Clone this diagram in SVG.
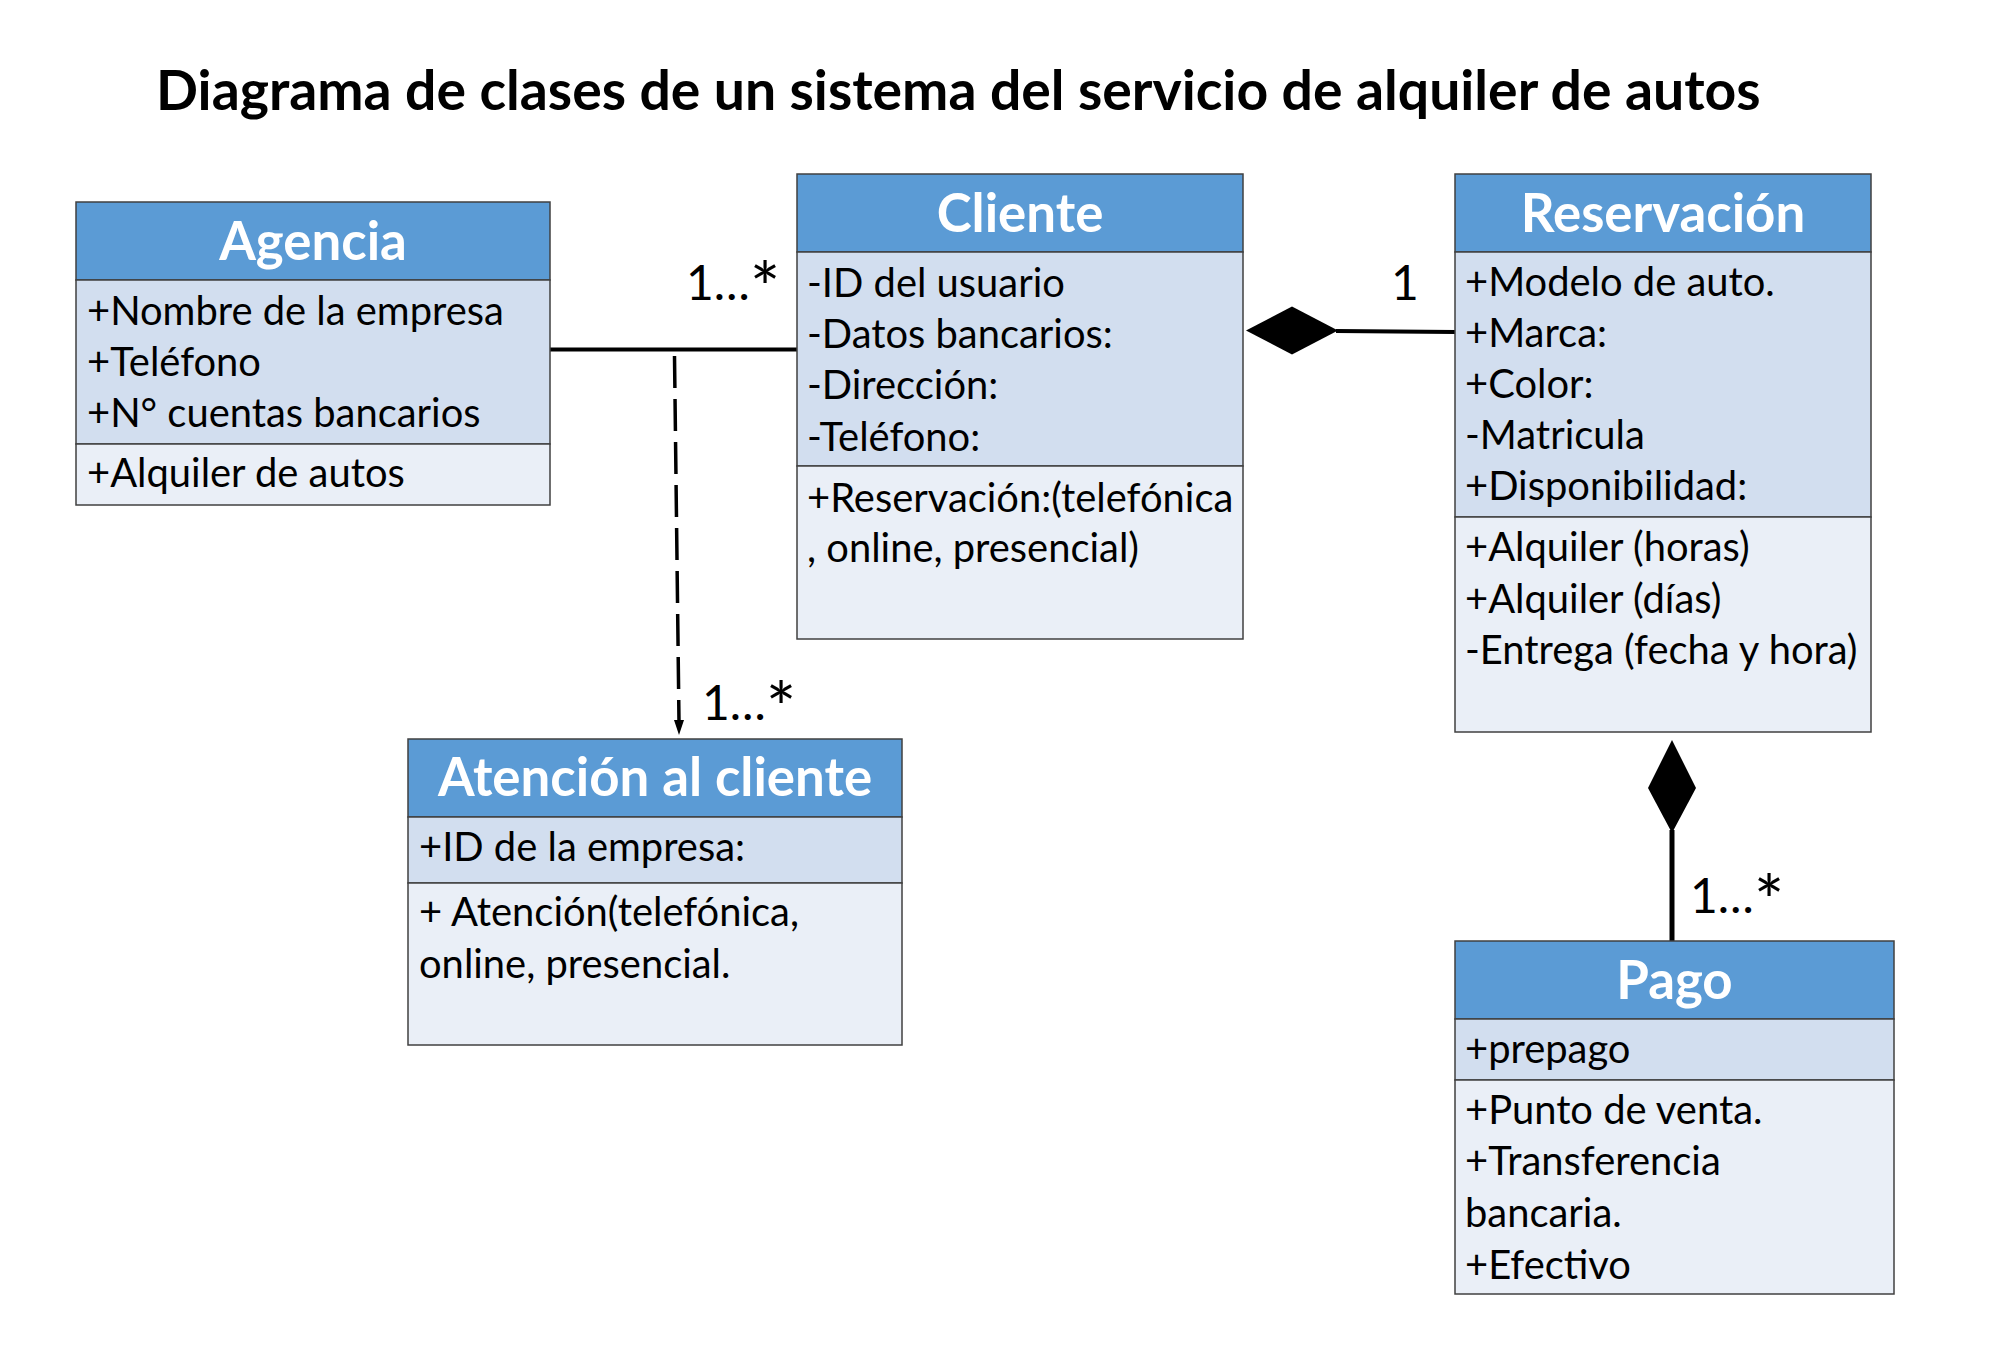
<svg xmlns="http://www.w3.org/2000/svg" width="1994" height="1355" viewBox="0 0 1994 1355">
<defs>
<style>
.hdr{fill:#5B9BD5;stroke:#404040;stroke-width:1.5}
.att{fill:#D2DEEF;stroke:#404040;stroke-width:1.5}
.ops{fill:#EAEFF7;stroke:#404040;stroke-width:1.5}
.ht{font-family:Lato,"Open Sans","Liberation Sans",sans-serif;font-weight:bold;font-size:52.8px;fill:#FFFFFF;text-anchor:middle}
.t{font-family:Lato,"Open Sans","Liberation Sans",sans-serif;font-size:39.9px;fill:#000000}
.lbl{font-family:Lato,"Open Sans","Liberation Sans",sans-serif;font-size:48px;fill:#000000}
.ast{font-size:72px}
.title{font-family:Lato,"Open Sans","Liberation Sans",sans-serif;font-weight:bold;font-size:55.3px;fill:#000000}
.ln{stroke:#000000;stroke-width:4;fill:none}
</style>
</defs>
<rect width="1994" height="1355" fill="#FFFFFF"/>
<text class="title" x="156" y="110">Diagrama de clases de un sistema del servicio de alquiler de autos</text>

<g id="connectors">
<line class="ln" x1="550" y1="349.5" x2="797" y2="349.5"/>
<line x1="674.5" y1="356" x2="679" y2="722" stroke="#000000" stroke-width="3.5" stroke-dasharray="32 11"/>
<polygon points="674,720 684,720 679,735" fill="#000000"/>
<line class="ln" x1="1336" y1="331" x2="1455" y2="332"/>
<polygon points="1246,330.5 1292,306.5 1338,330.5 1292,354.5" fill="#000000"/>
<line x1="1672" y1="830" x2="1672" y2="941" stroke="#000000" stroke-width="5"/>
<polygon points="1672,740 1696,788 1672,833 1648,788" fill="#000000"/>
<text class="lbl" x="686" y="300">1…<tspan class="ast" dy="14">*</tspan></text>
<text class="lbl" x="702" y="720">1…<tspan class="ast" dy="14">*</tspan></text>
<text class="lbl" x="1391" y="300">1</text>
<text class="lbl" x="1690" y="913">1…<tspan class="ast" dy="14">*</tspan></text>
</g>

<g id="agencia">
<rect class="hdr" x="76" y="202" width="474" height="78"/>
<rect class="att" x="76" y="280" width="474" height="164"/>
<rect class="ops" x="76" y="444" width="474" height="61"/>
<text class="ht" x="313" y="260">Agencia</text>
<text class="t" x="87" y="325">+Nombre de la empresa</text>
<text class="t" x="87" y="376">+Teléfono</text>
<text class="t" x="87" y="427">+N° cuentas bancarios</text>
<text class="t" x="87" y="487">+Alquiler de autos</text>
</g>

<g id="cliente">
<rect class="hdr" x="797" y="174" width="446" height="78"/>
<rect class="att" x="797" y="252" width="446" height="214"/>
<rect class="ops" x="797" y="466" width="446" height="173"/>
<text class="ht" x="1020" y="232">Cliente</text>
<text class="t" x="807" y="297">-ID del usuario</text>
<text class="t" x="807" y="348">-Datos bancarios:</text>
<text class="t" x="807" y="399">-Dirección:</text>
<text class="t" x="807" y="451">-Teléfono:</text>
<text class="t" x="807" y="512">+Reservación:(telefónica</text>
<text class="t" x="807" y="562">, online, presencial)</text>
</g>

<g id="reservacion">
<rect class="hdr" x="1455" y="174" width="416" height="78"/>
<rect class="att" x="1455" y="252" width="416" height="265"/>
<rect class="ops" x="1455" y="517" width="416" height="215"/>
<text class="ht" x="1663" y="232">Reservación</text>
<text class="t" x="1465" y="296">+Modelo de auto.</text>
<text class="t" x="1465" y="347">+Marca:</text>
<text class="t" x="1465" y="398">+Color:</text>
<text class="t" x="1465" y="449">-Matricula</text>
<text class="t" x="1465" y="500">+Disponibilidad:</text>
<text class="t" x="1465" y="561">+Alquiler (horas)</text>
<text class="t" x="1465" y="613">+Alquiler (días)</text>
<text class="t" x="1465" y="664">-Entrega (fecha y hora)</text>
</g>

<g id="atencion">
<rect class="hdr" x="408" y="739" width="494" height="78"/>
<rect class="att" x="408" y="817" width="494" height="66"/>
<rect class="ops" x="408" y="883" width="494" height="162"/>
<text class="ht" x="655" y="796">Atención al cliente</text>
<text class="t" x="419" y="861">+ID de la empresa:</text>
<text class="t" x="419" y="926">+ Atención(telefónica,</text>
<text class="t" x="419" y="978">online, presencial.</text>
</g>

<g id="pago">
<rect class="hdr" x="1455" y="941" width="439" height="78"/>
<rect class="att" x="1455" y="1019" width="439" height="61"/>
<rect class="ops" x="1455" y="1080" width="439" height="214"/>
<text class="ht" x="1674.5" y="999">Pago</text>
<text class="t" x="1465" y="1063">+prepago</text>
<text class="t" x="1465" y="1124">+Punto de venta.</text>
<text class="t" x="1465" y="1175">+Transferencia</text>
<text class="t" x="1465" y="1227">bancaria.</text>
<text class="t" x="1465" y="1279">+Efectivo</text>
</g>
</svg>
